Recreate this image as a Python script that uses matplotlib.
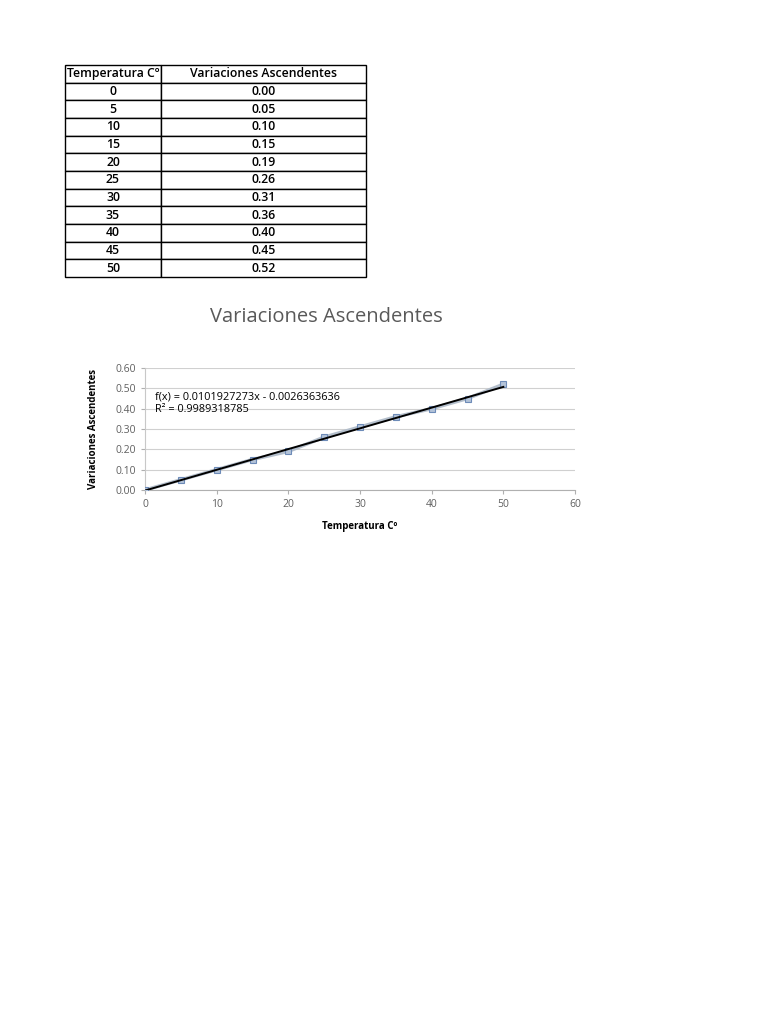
import numpy as np
import matplotlib
matplotlib.use('Agg')
import matplotlib.pyplot as plt

# data
temperatura = [0, 5, 10, 15, 20, 25, 30, 35, 40, 45, 50]
variaciones = [0.00, 0.05, 0.10, 0.15, 0.19, 0.26, 0.31, 0.36, 0.40, 0.45, 0.52]
col_labels = ['Temperatura Cº', 'Variaciones Ascendentes']
slope = 0.0101927273
intercept = -0.0026363636
r2 = 0.9989318785

plt.rcParams['font.family'] = ['Open Sans', 'DejaVu Sans']

fig = plt.figure(figsize=(7.68, 10.24), dpi=100)
W, H = 768, 1024


def px_axes(x0, y0, x1, y1):
    # pixel box (top-left origin) -> figure axes
    return fig.add_axes([x0 / W, 1 - y1 / H, (x1 - x0) / W, (y1 - y0) / H])


# table
tax = px_axes(65, 65, 366, 277)
tax.axis('off')
cells = [[str(t), f'{v:.2f}'] for t, v in zip(temperatura, variaciones)]
tbl = tax.table(cellText=cells, colLabels=col_labels, cellLoc='center',
                colWidths=[96 / 301, 205 / 301], bbox=[0, 0, 1, 1])
tbl.auto_set_font_size(False)
for (r, c), cell in tbl.get_celld().items():
    cell.set_linewidth(1.0)
    cell.set_edgecolor('black')
    cell.get_text().set_fontsize(8.8)
    cell.get_text().set_fontweight('semibold')

# chart title
fig.text(326 / W, 1 - 317 / H, 'Variaciones Ascendentes', ha='center', va='center',
         fontsize=14.5, color='#595959')

# chart
ax = px_axes(145, 368, 575, 490)
ax.plot(temperatura, variaciones, color='#b4bfcc', lw=2.5, zorder=2)
ax.plot(temperatura, variaciones, ls='none', marker='s', ms=5,
        mfc='#b3c3d8', mec='#6d8bb8', mew=0.8, zorder=3)
xt = np.array([temperatura[0], temperatura[-1]])
ax.plot(xt, slope * xt + intercept, color='black', lw=1.4, zorder=4)

ax.set_xlim(0, 60)
ax.set_ylim(0, 0.6)
ax.set_xticks(range(0, 61, 10))
ax.set_yticks(np.arange(0, 0.61, 0.1))
ax.set_yticklabels([f'{v:.2f}' for v in np.arange(0, 0.61, 0.1)])
ax.tick_params(labelsize=7.5, colors='#b0b0b0', labelcolor='#606060', length=3, width=0.8)
ax.grid(axis='y', color='#d0d0d0', lw=0.8)
ax.set_axisbelow(True)
for s in ['top', 'right']:
    ax.spines[s].set_visible(False)
ax.spines['left'].set_color('#c8c8c8')
ax.spines['bottom'].set_color('#b0b0b0')

ax.set_xlabel('Temperatura Cº', fontsize=7, fontweight='bold', labelpad=8)
ax.set_ylabel('Variaciones Ascendentes', fontsize=7, fontweight='bold', labelpad=12)

ax.text(1.4, 0.457, f'f(x) = {slope:.10f}x - {abs(intercept):.10f}', fontsize=7.8,
        va='center', ha='left')
ax.text(1.4, 0.398, f'R² = {r2:.10f}', fontsize=7.8, va='center', ha='left')

fig.savefig('out.png', dpi=100)
